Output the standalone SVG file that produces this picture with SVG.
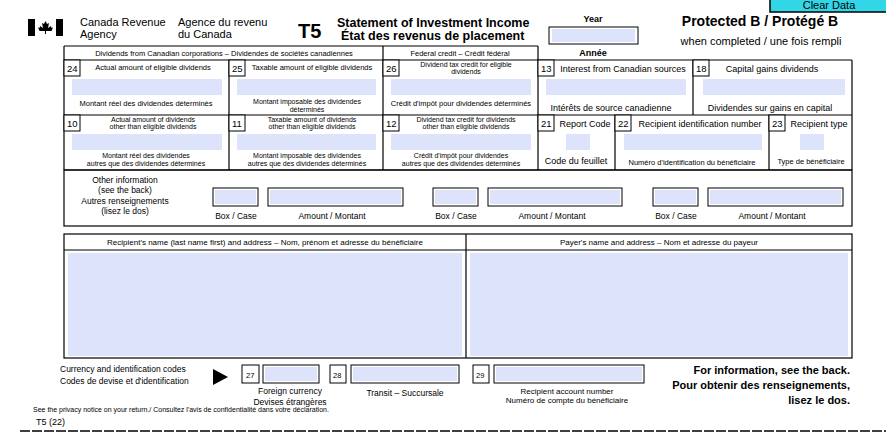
<svg xmlns="http://www.w3.org/2000/svg" width="886" height="435" viewBox="0 0 886 435">
<style>
text{font-family:"Liberation Sans",Arial,sans-serif;fill:#000}
.ln{fill:none;stroke:#000;stroke-width:1.2}
.f{fill:#dce3fb}
.n{fill:#fff;stroke:#000;stroke-width:1}
.s{font-size:7.5px}
.t{font-size:7px}
.m{font-size:9px}
.c{text-anchor:middle}
.nb{font-size:9.5px}
</style>
<rect width="886" height="435" fill="#fff"/>
<g id="clear"><rect x="770" y="-2" width="118" height="14" fill="#33d6e6" stroke="#000" stroke-width="1.5"/><text x="829" y="9" class="c" font-size="11">Clear Data</text></g>
<g id="header">
<rect x="28" y="19" width="7" height="17"/><rect x="56" y="19" width="7" height="17"/>
<path d="M45.5 21 L47 24 L49 23 L48 28 L51 26 L51.5 28 L53 27.5 L51.5 31 L46 31 L46 34 L45 34 L45 31 L39.5 31 L38 27.5 L39.5 28 L40 26 L43 28 L42 23 L44 24 Z"/>
<text x="80" y="26" font-size="11">Canada Revenue</text><text x="80" y="38" font-size="11">Agency</text>
<text x="178" y="26" font-size="11">Agence du revenu</text><text x="178" y="38" font-size="11">du Canada</text>
<text x="298" y="38" font-size="20" font-weight="bold">T5</text>
<text x="337" y="27" font-size="12.5" font-weight="bold">Statement of Investment Income</text>
<text x="341" y="40" font-size="12.5" font-weight="bold">État des revenus de placement</text>
<text x="593" y="22" class="c" font-size="9" font-weight="bold">Year</text>
<rect x="549" y="27" width="89" height="17" class="n"/><rect x="552" y="29" width="83" height="13" class="f"/>
<text x="593" y="56" class="c" font-size="9" font-weight="bold">Année</text>
<text x="760" y="26" class="c" font-size="14" font-weight="bold">Protected B / Protégé B</text>
<text x="761" y="45" class="c" font-size="11">when completed / une fois rempli</text>
</g>
<g id="grid">
<path class="ln" d="M64 46 H538 M64 46 V170 M383 46 V170 M538 46 V60 M64 60 H852 M852 60 V170 M64 115 H852 M64 170 H852 M229 60 V170 M538 60 V170 M693 60 V115 M615 115 V170 M769 115 V170"/>
<text x="224" y="56" class="c s">Dividends from Canadian corporations – Dividendes de sociétés canadiennes</text>
<text x="460" y="56" class="c s">Federal credit – Crédit fédéral</text>
</g>
<g id="b24"><rect x="64" y="60" width="16" height="16" class="n"/><text x="67" y="72" class="nb">24</text><text x="153" y="70" class="c s">Actual amount of eligible dividends</text><rect x="72" y="79" width="150" height="16" class="f"/><text x="146" y="106" class="c s">Montant réel des dividendes déterminés</text></g>
<g id="b25"><rect x="229" y="60" width="16" height="16" class="n"/><text x="232" y="72" class="nb">25</text><text x="312" y="70" class="c s">Taxable amount of eligible dividends</text><rect x="237" y="79" width="139" height="16" class="f"/><text x="307" y="104" class="c t">Montant imposable des dividendes</text><text x="307" y="112" class="c t">déterminés</text></g>
<g id="b26"><rect x="383" y="60" width="16" height="16" class="n"/><text x="386" y="72" class="nb">26</text><text x="466" y="66.5" class="c t">Dividend tax credit for eligible</text><text x="466" y="74" class="c t">dividends</text><rect x="391" y="79" width="140" height="16" class="f"/><text x="461" y="106" class="c s">Crédit d'impôt pour dividendes déterminés</text></g>
<g id="b13"><rect x="538" y="60" width="16" height="16" class="n"/><text x="541" y="72" class="nb">13</text><text x="623" y="72" class="c m">Interest from Canadian sources</text><rect x="546" y="79" width="140" height="16" class="f"/><text x="611" y="111" class="c m">Intérêts de source canadienne</text></g>
<g id="b18"><rect x="693" y="60" width="16" height="16" class="n"/><text x="696" y="72" class="nb">18</text><text x="772" y="72" class="c m">Capital gains dividends</text><rect x="703" y="79" width="142" height="16" class="f"/><text x="770" y="111" class="c m">Dividendes sur gains en capital</text></g>
<g id="b10"><rect x="64" y="115" width="16" height="16" class="n"/><text x="67" y="127" class="nb">10</text><text x="153" y="121.5" class="c t">Actual amount of dividends</text><text x="153" y="129" class="c t">other than eligible dividends</text><rect x="72" y="134" width="150" height="16" class="f"/><text x="146" y="158" class="c t">Montant réel des dividendes</text><text x="146" y="166" class="c t">autres que des dividendes déterminés</text></g>
<g id="b11"><rect x="229" y="115" width="16" height="16" class="n"/><text x="232" y="127" class="nb">11</text><text x="312" y="121.5" class="c t">Taxable amount of dividends</text><text x="312" y="129" class="c t">other than eligible dividends</text><rect x="237" y="134" width="139" height="16" class="f"/><text x="307" y="158" class="c t">Montant imposable des dividendes</text><text x="307" y="166" class="c t">autres que des dividendes déterminés</text></g>
<g id="b12"><rect x="383" y="115" width="16" height="16" class="n"/><text x="386" y="127" class="nb">12</text><text x="466" y="121.5" class="c t">Dividend tax credit for dividends</text><text x="466" y="129" class="c t">other than eligible dividends</text><rect x="391" y="134" width="140" height="16" class="f"/><text x="461" y="158" class="c t">Crédit d'impôt pour dividendes</text><text x="461" y="166" class="c t">autres que des dividendes déterminés</text></g>
<g id="b21"><rect x="538" y="115" width="16" height="16" class="n"/><text x="541" y="127" class="nb">21</text><text x="585" y="127" class="c m">Report Code</text><rect x="566" y="134" width="24" height="16" class="f"/><text x="576" y="164" class="c m">Code du feuillet</text></g>
<g id="b22"><rect x="615" y="115" width="16" height="16" class="n"/><text x="618" y="127" class="nb">22</text><text x="700" y="127" class="c m">Recipient identification number</text><rect x="624" y="134" width="138" height="16" class="f"/><text x="692" y="165" class="c s">Numéro d'identification du bénéficiaire</text></g>
<g id="b23"><rect x="769" y="115" width="16" height="16" class="n"/><text x="772" y="127" class="nb">23</text><text x="819" y="127" class="c m">Recipient type</text><rect x="800" y="134" width="24" height="16" class="f"/><text x="811" y="164" class="c s">Type de bénéficiaire</text></g>
<g id="other">
<rect x="64" y="170" width="788" height="56" class="ln"/>
<text x="125" y="183" class="c" font-size="8.5">Other information</text><text x="125" y="193" class="c" font-size="8.5">(see the back)</text><text x="125" y="204" class="c" font-size="8.5">Autres renseignements</text><text x="125" y="214" class="c" font-size="8.5">(lisez le dos)</text>
<rect x="213" y="188" width="45" height="18" class="n"/><rect x="215" y="190" width="41" height="14" class="f"/>
<rect x="268" y="188" width="135" height="18" class="n"/><rect x="270" y="190" width="131" height="14" class="f"/>
<rect x="433" y="188" width="45" height="18" class="n"/><rect x="435" y="190" width="41" height="14" class="f"/>
<rect x="488" y="188" width="134" height="18" class="n"/><rect x="490" y="190" width="130" height="14" class="f"/>
<rect x="653" y="188" width="45" height="18" class="n"/><rect x="655" y="190" width="41" height="14" class="f"/>
<rect x="708" y="188" width="135" height="18" class="n"/><rect x="710" y="190" width="131" height="14" class="f"/>
<text x="236" y="219" class="c" font-size="8.5">Box / Case</text><text x="332" y="219" class="c" font-size="8.5">Amount / Montant</text>
<text x="456" y="219" class="c" font-size="8.5">Box / Case</text><text x="552" y="219" class="c" font-size="8.5">Amount / Montant</text>
<text x="676" y="219" class="c" font-size="8.5">Box / Case</text><text x="772" y="219" class="c" font-size="8.5">Amount / Montant</text>
</g>
<g id="names">
<rect x="64" y="234" width="788" height="124" class="ln"/>
<path class="ln" d="M64 250 H852 M466 234 V358"/>
<text x="265" y="245" class="c" font-size="8">Recipient's name (last name first) and address – Nom, prénom et adresse du bénéficiaire</text>
<text x="659" y="245" class="c" font-size="8">Payer's name and address – Nom et adresse du payeur</text>
<rect x="68" y="253" width="394" height="103" class="f"/><rect x="470" y="253" width="378" height="103" class="f"/>
</g>
<g id="bottom">
<text x="60" y="372" font-size="8.5">Currency and identification codes</text>
<text x="60" y="384" font-size="8.5">Codes de devise et d'identification</text>
<path d="M213 369 L228 377 L213 385 Z"/>
<rect x="242" y="365" width="17" height="18" class="n"/><text x="246" y="378" class="s">27</text>
<rect x="263" y="365" width="56" height="18" class="n"/><rect x="265" y="367" width="52" height="14" class="f"/>
<rect x="330" y="365" width="16" height="18" class="n"/><text x="333" y="378" class="s">28</text>
<rect x="351" y="365" width="108" height="18" class="n"/><rect x="353" y="367" width="104" height="14" class="f"/>
<rect x="473" y="365" width="16" height="18" class="n"/><text x="476" y="378" class="s">29</text>
<rect x="494" y="365" width="150" height="18" class="n"/><rect x="496" y="367" width="146" height="14" class="f"/>
<text x="290" y="394" class="c" font-size="8.5">Foreign currency</text><text x="290" y="405" class="c" font-size="8.5">Devises étrangères</text>
<text x="405" y="396" class="c" font-size="8.5">Transit – Succursale</text>
<text x="567" y="394" class="c" font-size="8">Recipient account number</text><text x="567" y="403" class="c" font-size="8">Numéro de compte du bénéficiaire</text>
<text x="850" y="374" text-anchor="end" font-size="11" font-weight="bold">For information, see the back.</text>
<text x="850" y="389" text-anchor="end" font-size="11" font-weight="bold">Pour obtenir des renseignements,</text>
<text x="850" y="404" text-anchor="end" font-size="11" font-weight="bold">lisez le dos.</text>
<text x="33" y="412" font-size="7">See the privacy notice on your return./ Consultez l'avis de confidentialité dans votre déclaration.</text>
<text x="36" y="425" font-size="9">T5 (22)</text>
<line x1="20" y1="431" x2="886" y2="431" stroke="#000" stroke-width="1.5" stroke-dasharray="10 2"/>
</g>
</svg>
